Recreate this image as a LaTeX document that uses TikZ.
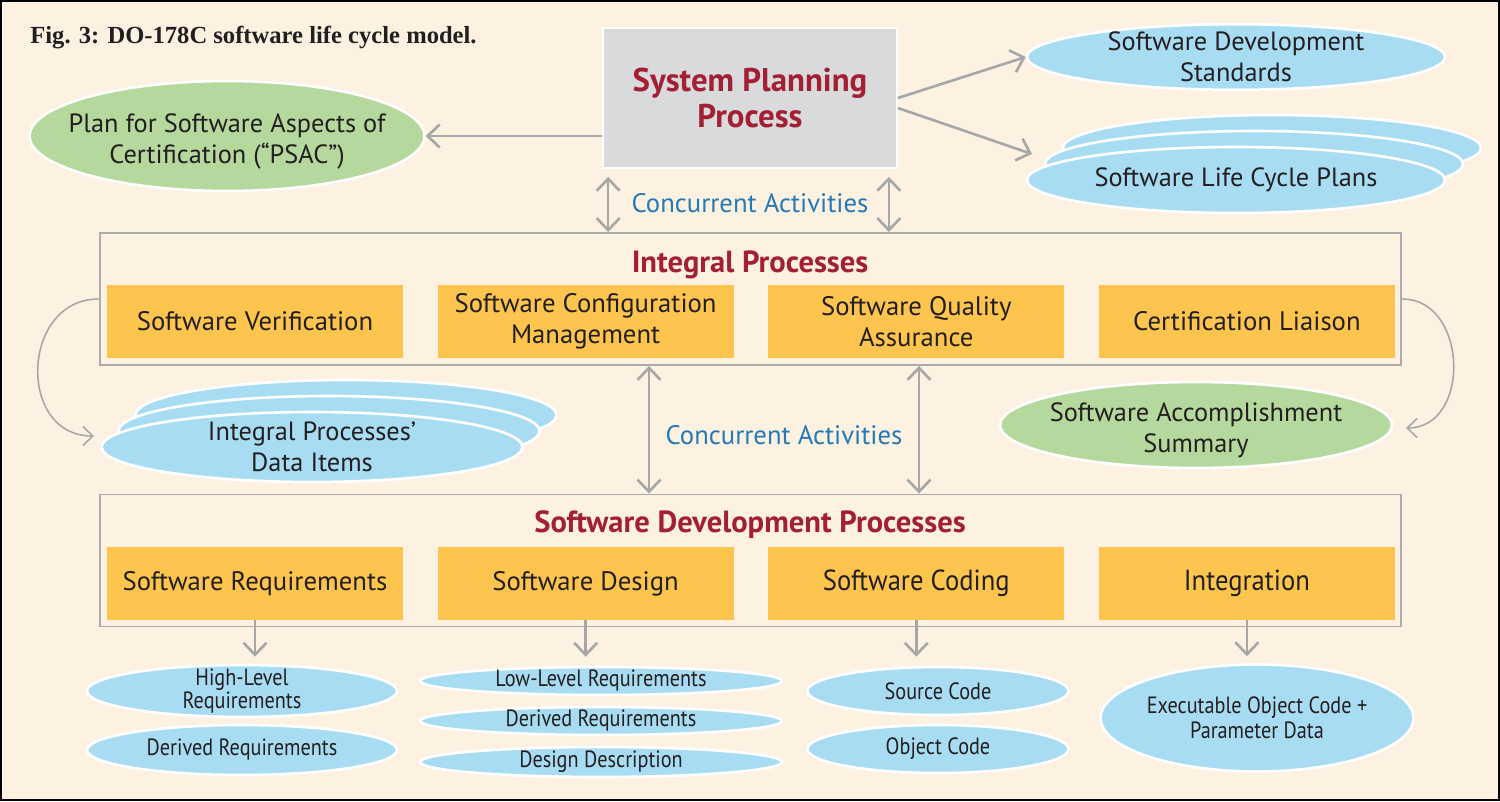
\documentclass[tikz,border=0pt]{standalone}
\usepackage{fontspec}
\setmainfont{PT Sans}
\newfontfamily\captionfont{Liberation Serif}
\newfontfamily\narrowfont[FakeStretch=0.86]{PT Sans}
\newfontfamily\semifont[FakeStretch=0.92]{PT Sans}
\usetikzlibrary{positioning,shapes.geometric,arrows.meta}

\definecolor{cream}{HTML}{FDF2E2}
\definecolor{plangray}{HTML}{D9DADC}
\definecolor{boxorange}{HTML}{FDC44E}
\definecolor{itemblue}{HTML}{A8DCF3}
\definecolor{resgreen}{HTML}{B5D89C}
\definecolor{headred}{HTML}{A31F34}
\definecolor{concblue}{HTML}{2479B6}
\definecolor{arrowgray}{HTML}{A7A7A7}
\definecolor{framegray}{HTML}{ABABAB}
\definecolor{ink}{HTML}{231F20}

\begin{document}
\begin{tikzpicture}[x=0.02cm,y=-0.02cm,
  node distance=0.68cm,
  every node/.style={text=ink},
  process/.style={fill=boxorange,minimum width=5.92cm,minimum height=1.46cm,inner sep=0pt,align=center,font=\fontsize{15.2}{17.5}\selectfont},
  narrowprocess/.style={process,font=\semifont\fontsize{16.5}{19}\selectfont},
  group/.style={draw=framegray,line width=1.1pt,minimum width=26.04cm,minimum height=2.64cm,inner sep=0pt},
  heading/.style={text=headred,font=\fontsize{17.4}{20}\selectfont\bfseries},
  blob/.style={ellipse,draw=white,line width=1.5pt,inner xsep=-0.6cm,inner ysep=-4pt,align=center,font=\fontsize{15}{18}\selectfont},
  dataitem/.style={blob,fill=itemblue},
  smallitem/.style={dataitem,font=\narrowfont\fontsize{13.4}{11.5}\selectfont},
  summary/.style={blob,fill=resgreen},
  lowtext/.style={text height=#1,text depth=3pt},
  concurrent/.style={text=concblue,font=\fontsize{15.2}{17}\selectfont},
  arr/.style={draw=arrowgray,line width=1.5pt,-{Straight Barb[length=0.24cm,width=0.46cm]}},
  biarr/.style={arr,{Straight Barb[length=0.24cm,width=0.46cm]}-{Straight Barb[length=0.24cm,width=0.46cm]}},
  loopy/.style={draw=arrowgray,line width=0.9pt,-{Straight Barb[length=0.2cm,width=0.38cm]}}
]
\useasboundingbox (0,0) rectangle (1500,801);
\fill[cream] (0,0) rectangle (1500,801);
\draw[black,line width=0.05cm] (1.25,1.25) rectangle (1498.75,799.75);

\node[anchor=base west,inner sep=0pt,font=\captionfont\bfseries\fontsize{14}{17}\selectfont] (caption) at (30,43) {Fig. 3: DO-178C software life cycle model.};

% planning
\node[fill=plangray,draw=white,line width=1pt,minimum width=5.88cm,minimum height=2.8cm,inner sep=0pt,align=center,text=headred,font=\fontsize{18.7}{20.5}\selectfont\bfseries] (spp) at (750,98) {System Planning\\Process};
\node[summary,lowtext=34.8pt,minimum width=7.9cm,minimum height=2.2cm] (psac) at (227,136) {Plan for Software Aspects of\\Certification (“PSAC”)};
\node[dataitem,lowtext=31.4pt,minimum width=8.36cm,minimum height=1.3cm] (sds) at (1236,57) {Software Development\\Standards};
\node[dataitem,minimum width=8.36cm,minimum height=1.32cm] (plans3) at (1272,148) {};
\node[dataitem,minimum width=8.36cm,minimum height=1.32cm] (plans2) at (1254,164) {};
\node[dataitem,minimum width=8.36cm,minimum height=1.32cm] (plans) at (1236,180) {Software Life Cycle Plans};
\coordinate (plansin) at (1032,154);
\path (spp.west |- psac.east) edge[arr] (psac.east);
\path (spp.east) edge[arr] (sds.west);
\path ([yshift=-0.2cm]spp.east) edge[arr] (plansin);

\node[concurrent] (conc1) at (750,203) {Concurrent Activities};
\path ([xshift=0.12cm]spp.south west) edge[biarr,shorten <=0.16cm] ([xshift=0.12cm]spp.south west |- 0,232);
\path ([xshift=-0.18cm]spp.south east) edge[biarr,shorten <=0.16cm] ([xshift=-0.18cm]spp.south east |- 0,232);

% integral processes
\node[group] (intp) at (750.5,299) {};
\node[heading,anchor=base] (intphead) at (750,272) {Integral Processes};
\node[process] (sver) at (255,321.5) {Software Verification};
\node[process,right=of sver] (scm) {Software Configuration\\Management};
\node[process,right=of scm] (sqa) {Software Quality\\Assurance};
\node[process,right=of sqa] (cl) {Certification Liaison};

\node[dataitem,minimum width=8.42cm,minimum height=1.4cm] (ipdata3) at (346,415) {};
\node[dataitem,minimum width=8.42cm,minimum height=1.4cm] (ipdata2) at (329,431) {};
\node[dataitem,lowtext=31.4pt,minimum width=8.42cm,minimum height=1.4cm] (ipdata) at (312,447) {Integral Processes’\\Data Items};
\coordinate (ipin) at (94,436);
\path (intp.west) edge[loopy,out=180,in=180,looseness=1.45] (ipin);

\node[summary,lowtext=34.8pt,minimum width=7.84cm,minimum height=1.72cm] (sas) at (1196,425) {Software Accomplishment\\Summary};
\coordinate (sasin) at (1406,428);
\path (intp.east) edge[loopy,out=0,in=0,looseness=1.3] (sasin);

\node[concurrent] (conc2) at (784,435) {Concurrent Activities};

% development processes
\node[group] (devp) at (750.5,560.5) {};
\node[heading,anchor=base] (devphead) at (750,532) {Software Development Processes};
\node[process] (sreq) at (255,583.5) {Software Requirements};
\node[process,right=of sreq] (sdes) {Software Design};
\node[narrowprocess,right=of sdes] (scod) {Software Coding};
\node[narrowprocess,right=of scod] (integ) {Integration};

\path (649,0 |- intp.south) edge[biarr] (649,0 |- devp.north);
\path (919,0 |- intp.south) edge[biarr] (919,0 |- devp.north);

% outputs
\node[smallitem,minimum width=6.2cm,minimum height=1.04cm] (hlr) at (242,691) {High-Level\\Requirements};
\node[smallitem,minimum width=6.2cm,minimum height=1cm] (hlrder) at (242,750) {Derived Requirements};
\node[smallitem,minimum width=7.24cm,minimum height=0.56cm] (llr) at (601,681) {Low-Level Requirements};
\node[smallitem,minimum width=7.24cm,minimum height=0.56cm] (llrder) at (601,721) {Derived Requirements};
\node[smallitem,minimum width=7.24cm,minimum height=0.6cm] (ddesc) at (601,762) {Design Description};
\node[smallitem,minimum width=5.22cm,minimum height=0.96cm] (srccode) at (938,691) {Source Code};
\node[smallitem,minimum width=5.22cm,minimum height=0.96cm] (objcode) at (938,749) {Object Code};
\node[smallitem,minimum width=6.26cm,minimum height=2.14cm,font=\narrowfont\fontsize{13.4}{14.5}\selectfont] (eoc) at (1257,718) {Executable Object Code +\\Parameter Data};

\path (sreq.south) edge[arr,shorten >=0.14cm] (sreq.south |- hlr.north);
\path (sdes.south) edge[arr,shorten >=0.18cm] (sdes.south |- llr.north);
\path (scod.south) edge[arr,shorten >=0.18cm] (scod.south |- srccode.north);
\path (integ.south) edge[arr,shorten >=0.14cm] (integ.south |- eoc.north);
\end{tikzpicture}
\end{document}
